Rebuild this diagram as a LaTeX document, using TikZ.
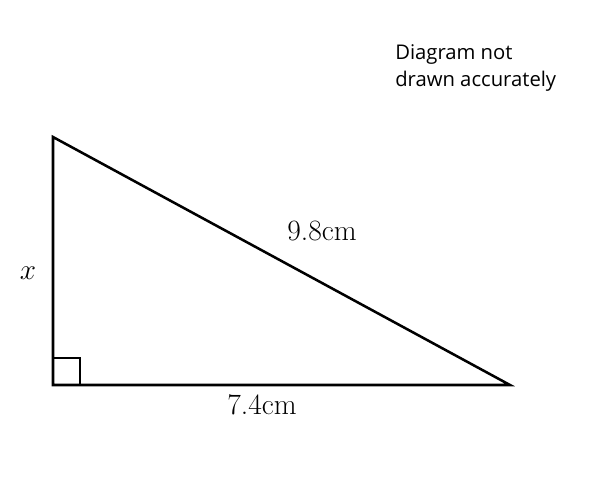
\documentclass[tikz,border=0pt]{standalone}
\usepackage{fontspec}
\newfontfamily\notefont{Open Sans}
\usetikzlibrary{positioning}

\begin{document}
\begin{tikzpicture}[x=0.025cm, y=-0.025cm, line join=miter,
  side/.style={line width=1.8pt},
  lbl/.style={inner sep=0pt, font=\fontsize{21}{25}\selectfont}]

\useasboundingbox (0,0) rectangle (616,495);

% corners of the triangle
\coordinate (A) at (53,137);
\coordinate (B) at (53,385);
\coordinate (C) at (510,385);

\draw[side] (A) -- (B) -- (C) -- cycle;
% right angle mark
\draw[line width=1.3pt] (B) ++(27,0) -- ++(0,-27) -- ++(-27,0);

% labels
\node[lbl, anchor=base] (hyp) at (322,240) {9.8cm};
\node[lbl, anchor=base] (base) at (262,414) {7.4cm};
\node[lbl, anchor=base] (x) at (28,279) {$x$};

\node[inner sep=0pt, anchor=north west, align=left,
  font=\notefont\fontsize{14.4}{19.5}\selectfont] (note) at (395,44)
  {Diagram not\\drawn accurately};

\end{tikzpicture}
\end{document}
